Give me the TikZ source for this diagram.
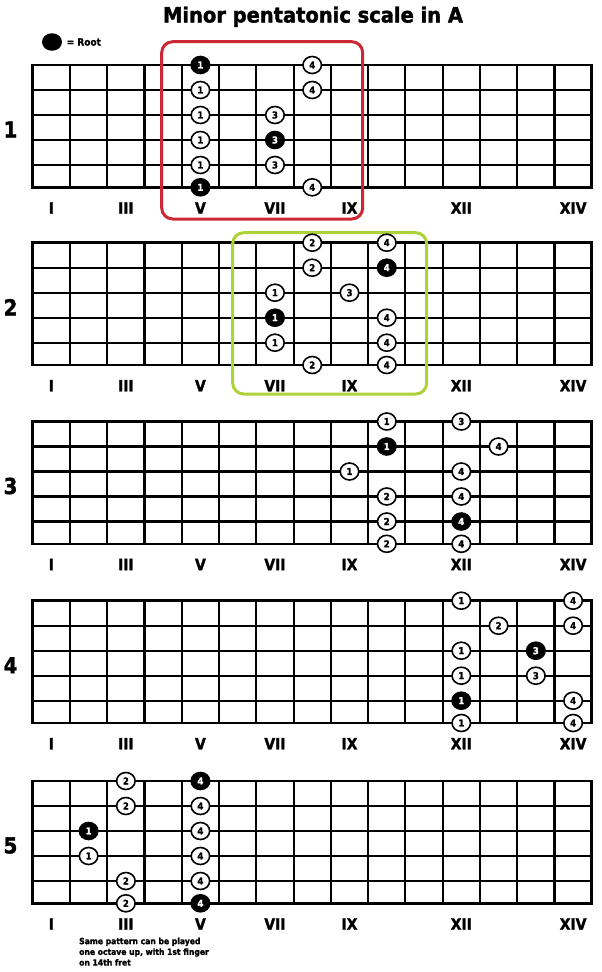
\documentclass[tikz,border=0pt]{standalone}
\usepackage{fontspec}
\usetikzlibrary{shapes.geometric}
\IfFontExistsTF{DejaVu Sans Condensed Bold}
  {\newfontfamily\heavy{DejaVu Sans Condensed Bold}[FakeBold=1.6]}
  {\newfontfamily\heavyfam{DejaVu Sans}[FakeBold=1.6]\newcommand\heavy{\heavyfam\bfseries}}
\definecolor{boxred}{RGB}{204,40,52}
\definecolor{boxgreen}{RGB}{172,212,58}
\tikzset{
  gridline/.style={line width=2.1pt, black},
  border/.style={line width=2.6pt, black},
  wdot/.style={ellipse, draw=black, fill=white, line width=1.6pt, minimum width=18.5pt, minimum height=17pt, inner sep=0pt, font=\heavy\fontsize{9.5}{9.5}\selectfont},
  bdot/.style={wdot, fill=black, text=white},
  numeral/.style={font=\heavy\fontsize{15.5}{15.5}\selectfont, inner sep=0pt},
  boardlabel/.style={font=\heavy\fontsize{22}{22}\selectfont, inner sep=0pt},
  patternbox/.style={line width=3pt, rounded corners=11pt},
}
% x centre of fret column #1
\newcommand\cx[1]{32.7+37.27*(#1-0.5)}
% y of string #2 on the board whose top is #1
\newcommand\sy[2]{#1+(#2<6 ? 25*(#2-1) : 122.3)}
% \fdot{name}{style}{top}{string}{column}{finger}
\newcommand\fdot[6]{\node[#2] (#1) at ({\cx{#5}},{\sy{#3}{#4}}) {#6};}
\newcommand\board[3]{% #1 top, #2 label, #3 name
  \foreach \s in {1,...,6} {\draw[gridline] (32.7,{\sy{#1}{\s}}) -- (591.7,{\sy{#1}{\s}});}
  \foreach \i in {1,...,14} {\draw[gridline] ({32.7+37.27*\i},#1) -- ({32.7+37.27*\i},{#1+122.3});}
  \draw[border] (32.7,#1) rectangle (591.7,{#1+122.3});
  \node[boardlabel] (#3lab) at (10.5,{#1+64.5}) {#2};
  \node[numeral] (#3n1) at ({\cx{1}},{#1+143}) {I};
  \node[numeral] (#3n3) at ({\cx{3}},{#1+143}) {III};
  \node[numeral] (#3n5) at ({\cx{5}},{#1+143}) {V};
  \node[numeral] (#3n7) at ({\cx{7}},{#1+143}) {VII};
  \node[numeral] (#3n9) at ({\cx{9}},{#1+143}) {IX};
  \node[numeral] (#3n12) at ({\cx{12}},{#1+143}) {XII};
  \node[numeral] (#3n15) at ({\cx{15}},{#1+143}) {XIV};
}
\begin{document}
\begin{tikzpicture}[x=1pt,y=-1pt]
\useasboundingbox (0,0) rectangle (602,972);
\fill[white] (0,0) rectangle (602,972);
% title and legend
\node[inner sep=0pt, anchor=base] (title) at (313,22.5) {\resizebox{300pt}{16pt}{\heavy Minor pentatonic scale in A}};
\node[ellipse, fill=black, minimum width=20pt, minimum height=17.5pt, inner sep=0pt] (rootdot) at (52,42) {};
\node[anchor=west, inner sep=0pt, font=\heavy\fontsize{10}{10}\selectfont] (rootlab) at (66.5,42) {= Root};
% boards
\board{65}{1}{a}
\board{242.7}{2}{b}
\board{421.5}{3}{c}
\board{600.7}{4}{d}
\board{781}{5}{e}
% pattern boxes
\draw[patternbox, boxred] (161.7,41.7) rectangle (362.7,219);
\draw[patternbox, boxgreen] (232.7,232.7) rectangle (426.7,394);
% pattern 1
\fdot{a11}{bdot}{65}{1}{5}{1}\fdot{a14}{wdot}{65}{1}{8}{4}
\fdot{a21}{wdot}{65}{2}{5}{1}\fdot{a24}{wdot}{65}{2}{8}{4}
\fdot{a31}{wdot}{65}{3}{5}{1}\fdot{a33}{wdot}{65}{3}{7}{3}
\fdot{a41}{wdot}{65}{4}{5}{1}\fdot{a43}{bdot}{65}{4}{7}{3}
\fdot{a51}{wdot}{65}{5}{5}{1}\fdot{a53}{wdot}{65}{5}{7}{3}
\fdot{a61}{bdot}{65}{6}{5}{1}\fdot{a64}{wdot}{65}{6}{8}{4}
% pattern 2
\fdot{b12}{wdot}{242.7}{1}{8}{2}\fdot{b14}{wdot}{242.7}{1}{10}{4}
\fdot{b22}{wdot}{242.7}{2}{8}{2}\fdot{b24}{bdot}{242.7}{2}{10}{4}
\fdot{b31}{wdot}{242.7}{3}{7}{1}\fdot{b33}{wdot}{242.7}{3}{9}{3}
\fdot{b41}{bdot}{242.7}{4}{7}{1}\fdot{b44}{wdot}{242.7}{4}{10}{4}
\fdot{b51}{wdot}{242.7}{5}{7}{1}\fdot{b54}{wdot}{242.7}{5}{10}{4}
\fdot{b62}{wdot}{242.7}{6}{8}{2}\fdot{b64}{wdot}{242.7}{6}{10}{4}
% pattern 3
\fdot{c11}{wdot}{421.5}{1}{10}{1}\fdot{c13}{wdot}{421.5}{1}{12}{3}
\fdot{c21}{bdot}{421.5}{2}{10}{1}\fdot{c24}{wdot}{421.5}{2}{13}{4}
\fdot{c31}{wdot}{421.5}{3}{9}{1}\fdot{c34}{wdot}{421.5}{3}{12}{4}
\fdot{c42}{wdot}{421.5}{4}{10}{2}\fdot{c44}{wdot}{421.5}{4}{12}{4}
\fdot{c52}{wdot}{421.5}{5}{10}{2}\fdot{c54}{bdot}{421.5}{5}{12}{4}
\fdot{c62}{wdot}{421.5}{6}{10}{2}\fdot{c64}{wdot}{421.5}{6}{12}{4}
% pattern 4
\fdot{d11}{wdot}{600.7}{1}{12}{1}\fdot{d14}{wdot}{600.7}{1}{15}{4}
\fdot{d22}{wdot}{600.7}{2}{13}{2}\fdot{d24}{wdot}{600.7}{2}{15}{4}
\fdot{d31}{wdot}{600.7}{3}{12}{1}\fdot{d33}{bdot}{600.7}{3}{14}{3}
\fdot{d41}{wdot}{600.7}{4}{12}{1}\fdot{d43}{wdot}{600.7}{4}{14}{3}
\fdot{d51}{bdot}{600.7}{5}{12}{1}\fdot{d54}{wdot}{600.7}{5}{15}{4}
\fdot{d61}{wdot}{600.7}{6}{12}{1}\fdot{d64}{wdot}{600.7}{6}{15}{4}
% pattern 5
\fdot{e12}{wdot}{781}{1}{3}{2}\fdot{e14}{bdot}{781}{1}{5}{4}
\fdot{e22}{wdot}{781}{2}{3}{2}\fdot{e24}{wdot}{781}{2}{5}{4}
\fdot{e31}{bdot}{781}{3}{2}{1}\fdot{e34}{wdot}{781}{3}{5}{4}
\fdot{e41}{wdot}{781}{4}{2}{1}\fdot{e44}{wdot}{781}{4}{5}{4}
\fdot{e52}{wdot}{781}{5}{3}{2}\fdot{e54}{wdot}{781}{5}{5}{4}
\fdot{e62}{wdot}{781}{6}{3}{2}\fdot{e64}{bdot}{781}{6}{5}{4}
% note
\node[anchor=north west, align=left, inner sep=0pt, font=\heavy\fontsize{8.5}{10.7}\selectfont] (note) at (79,937.5)
  {Same pattern can be played\\one octave up, with 1st finger\\on 14th fret};
\end{tikzpicture}
\end{document}
